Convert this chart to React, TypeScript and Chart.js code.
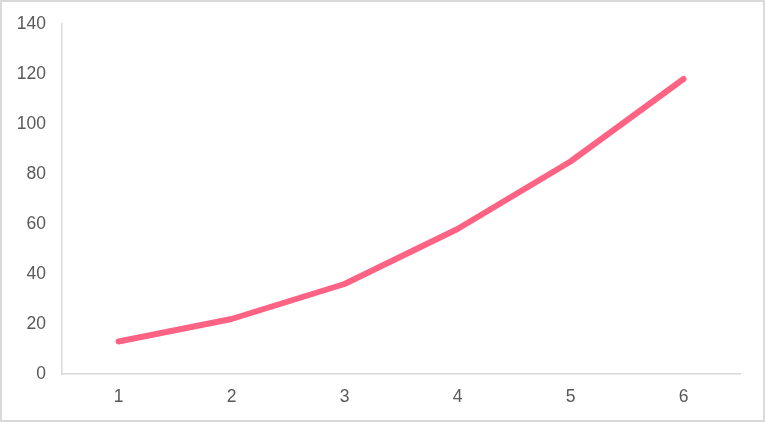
import React, { useEffect, useRef } from "react";
import { Chart, registerables } from "chart.js";

Chart.register(...registerables);

const categories = ["1", "2", "3", "4", "5", "6"];
const seriesValues = [13, 22, 36, 58, 85, 118];
const yTicks = [0, 20, 40, 60, 80, 100, 120, 140];

export default function App() {
  const canvasRef = useRef<HTMLCanvasElement | null>(null);

  useEffect(() => {
    if (!canvasRef.current) return;
    const font = { family: "'Liberation Sans', Arial, sans-serif", size: 17.5 };
    const chart = new Chart(canvasRef.current, {
      type: "line",
      data: {
        labels: categories,
        datasets: [
          {
            data: seriesValues,
            borderColor: "rgb(255,99,132)",
            backgroundColor: "rgb(255,99,132)",
            borderWidth: 6,
            borderCapStyle: "round",
            borderJoinStyle: "round",
            pointRadius: 0,
            pointHoverRadius: 0,
            tension: 0,
            fill: false,
          },
        ],
      },
      options: {
        animation: false,
        responsive: true,
        maintainAspectRatio: false,
        layout: { padding: { left: 0, right: 23, top: 22, bottom: 0 } },
        plugins: { legend: { display: false }, tooltip: { enabled: false } },
        scales: {
          x: {
            type: "category",
            offset: true,
            grid: { display: false, drawTicks: false },
            border: { display: true, color: "#D9D9D9", width: 1.5 },
            ticks: { color: "#595959", font, padding: 13, maxRotation: 0 },
            afterFit: (scale: any) => {
              scale.height = 46;
              scale.paddingLeft = 0;
              scale.paddingRight = 0;
            },
          },
          y: {
            min: 0,
            max: 140,
            afterBuildTicks: (scale: any) => {
              scale.ticks = yTicks.map((v) => ({ value: v }));
            },
            grid: { display: false, drawTicks: false },
            border: { display: true, color: "#D9D9D9", width: 1.5 },
            ticks: { color: "#595959", font, padding: 16 },
            afterFit: (scale: any) => {
              scale.width = 60;
              scale.paddingTop = 0;
              scale.paddingBottom = 0;
            },
          },
        },
      },
    });
    return () => chart.destroy();
  }, []);

  return (
    <div
      style={{
        position: "fixed",
        left: 0,
        top: 0,
        width: 765,
        height: 422,
        boxSizing: "border-box",
        border: "2px solid #D9D9D9",
        background: "#fff",
      }}
    >
      <div style={{ position: "relative", width: 761, height: 418 }}>
        <canvas ref={canvasRef} />
      </div>
    </div>
  );
}
